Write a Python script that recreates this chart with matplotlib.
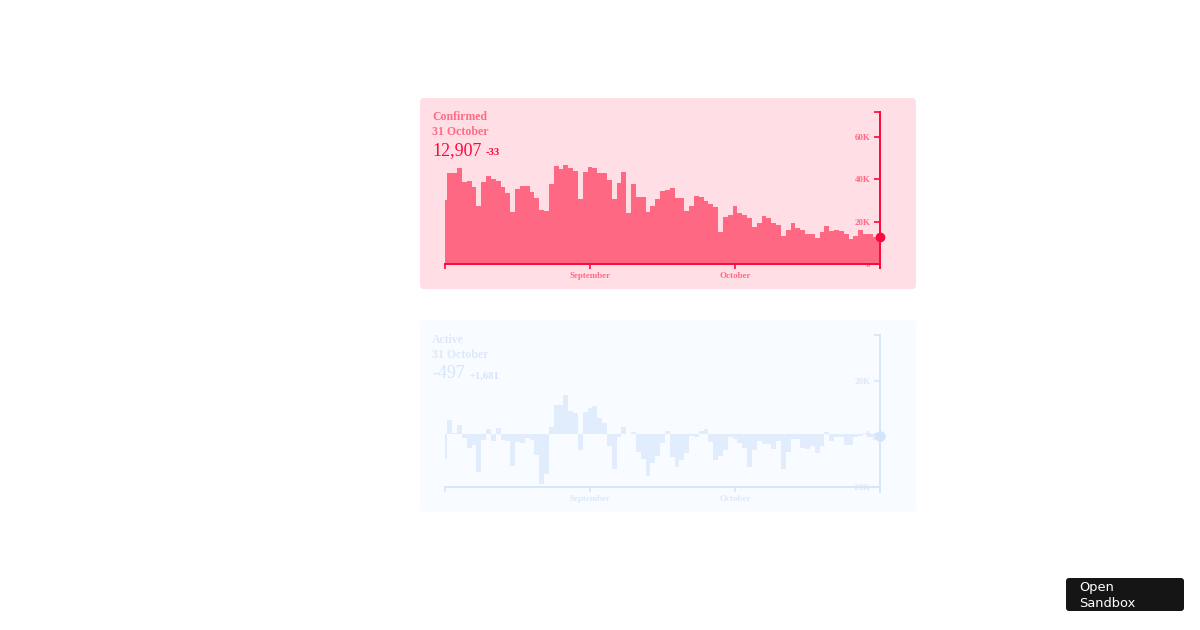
import matplotlib
matplotlib.use('Agg')
import matplotlib.pyplot as plt
from matplotlib.patches import FancyBboxPatch
import matplotlib.dates as mdates
import pandas as pd

# ---------------- data ----------------
dates = pd.date_range('2020-08-02', '2020-10-31', freq='D')

confirmed_k = [30.3, 42.9, 42.9, 45.2, 38.9, 39.4, 36.3, 27.4, 38.6, 41.8,
               40.2, 39.2, 36.3, 33.4, 24.7, 35.5, 36.9, 36.9, 34.2, 31.1,
               25.5, 25.1, 37.8, 46.3, 44.9, 46.8, 45.2, 44.0, 30.6, 43.3,
               46.0, 45.5, 42.9, 42.9, 39.7, 30.6, 38.1, 43.6, 24.3, 37.8,
               31.5, 31.5, 24.4, 27.6, 30.6, 34.7, 35.0, 35.8, 31.3, 31.1,
               25.1, 27.6, 32.2, 31.5, 29.8, 28.4, 27.1, 15.0, 22.1, 23.2,
               27.4, 24.0, 23.2, 21.6, 17.4, 19.2, 22.7, 21.9, 19.6, 18.5,
               13.2, 15.9, 19.2, 17.2, 15.9, 14.2, 14.2, 12.4, 15.0, 18.1,
               15.6, 15.9, 15.8, 14.3, 11.7, 13.2, 16.2, 14.3, 14.2, 12.940,
               12.907]

active_k = [-9.2, 5.4, 0.4, 3.5, -1.5, -5.0, -4.0, -14.2, -2.1, 2.0,
            -2.7, 2.5, -2.1, -2.7, -12.1, -3.0, -3.1, -1.5, -2.1, -7.7,
            -18.9, -14.8, 2.9, 11.2, 11.2, 14.7, 8.8, 8.1, -5.9, 8.5,
            10.1, 10.6, 6.0, 4.1, -4.4, -13.0, -1.1, 2.6, 0.3, 1.0,
            -6.7, -9.2, -15.6, -10.8, -8.1, -3.4, 1.4, -8.6, -12.5, -9.6,
            -7.1, -0.5, -1.1, 1.2, 2.0, -3.0, -9.6, -8.3, -5.9, -1.2,
            -1.9, -3.1, -5.0, -12.5, -5.9, -2.4, -3.6, -3.6, -5.6, -2.5,
            -13.1, -6.5, -1.9, -1.9, -5.0, -5.6, -4.4, -6.9, -4.4, 0.9,
            -2.5, -1.2, -1.0, -4.1, -4.1, -1.2, -0.6, 0.6, -1.0, -2.178,
            -0.497]

confirmed = [v * 1000 for v in confirmed_k]
active = [v * 1000 for v in active_k]

x_tick_dates = [dates[0], pd.Timestamp('2020-09-01'), pd.Timestamp('2020-10-01'), dates[-1]]
x_tick_labels = ['', 'September', 'October', '']

conf_ticks = [0, 20000, 40000, 60000]
conf_tick_labels = ['0', '20K', '40K', '60K']
act_ticks = [-20000, 0, 20000]
act_tick_labels = ['-20K', '0', '20K']

SERIF = ['Liberation Serif', 'DejaVu Serif']

W, H = 1200, 630
fig = plt.figure(figsize=(12, 6.3), dpi=100)
fig.patch.set_facecolor('white')

bg = fig.add_axes([0, 0, 1, 1], zorder=0)
bg.set_xlim(0, W)
bg.set_ylim(H, 0)
bg.axis('off')


def panel(x, y, w, h, color):
    bg.add_patch(FancyBboxPatch((x, y), w, h, boxstyle='round,pad=0,rounding_size=4',
                                facecolor=color, edgecolor='none'))


def chart_axes(left, right, top, bottom):
    ax = fig.add_axes([left / W, 1 - bottom / H, (right - left) / W, (bottom - top) / H], zorder=2)
    ax.set_facecolor('none')
    return ax


def style_axes(ax, axis_color, label_color, xaxis_y, yticks, ylabels, ytop):
    for s in ['top', 'right']:
        ax.spines[s].set_visible(False)
    xnum = mdates.date2num(dates[-1])
    ax.spines['left'].set_position(('data', xnum))
    ax.spines['bottom'].set_position(('data', xaxis_y))
    for s in ['left', 'bottom']:
        ax.spines[s].set_color(axis_color)
        ax.spines[s].set_linewidth(1.4)
    ax.set_xlim(dates[0], dates[-1])
    ax.set_xticks(x_tick_dates)
    ax.set_xticklabels(x_tick_labels)
    ax.set_yticks(yticks + [ytop])
    ax.set_yticklabels(ylabels + [''])
    ax.tick_params(axis='x', direction='out', length=3.8, width=1.2, color=axis_color,
                   pad=2.0, labelcolor=label_color, labelsize=6.5)
    ax.tick_params(axis='y', direction='out', length=4.3, width=1.2, color=axis_color,
                   pad=2.5, labelcolor=label_color, labelsize=6.5)
    for lab in ax.get_xticklabels() + ax.get_yticklabels():
        lab.set_family(SERIF)
        lab.set_fontweight('bold')


# ---------------- Confirmed panel ----------------
panel(420, 98, 496, 191, '#ffdfe5')
ax1 = chart_axes(445, 880, 112, 268)
c_px = 2.115 / 1000.0
ax1.set_ylim(-(268 - 264) / c_px, (264 - 112) / c_px)
ax1.bar(dates, confirmed, width=1.0, color='#ff6883', linewidth=0, zorder=1)
style_axes(ax1, '#ff073a', '#ff6b86', 0, conf_ticks, conf_tick_labels, (264 - 112) / c_px)
ax1.plot(dates[-1], confirmed[-1], 'o', ms=6, color='#ff073a', clip_on=False, zorder=5)

bg.text(432, 119.7, 'Confirmed', fontsize=8.5, fontweight='bold', family=SERIF,
        color='#ff6b86', va='baseline')
bg.text(432, 134.7, '31 October', fontsize=8.6, fontweight='bold', family=SERIF,
        color='#ff6b86', va='baseline')
bg.text(432, 155.3, '12,907', fontsize=13, family=SERIF, color='#ff073a', va='baseline')
bg.text(485.7, 155.3, '-33', fontsize=7.7, fontweight='bold', family=SERIF,
        color='#ff073a', va='baseline')

# ---------------- Active panel ----------------
panel(420, 320, 496, 192, '#f8fbff')
ax2 = chart_axes(445, 880, 335.3, 492)
a_px = 2.65 / 1000.0
ax2.set_ylim(-(492 - 434.3) / a_px, (434.3 - 335.3) / a_px)
ax2.bar(dates, active, width=1.0, color='#e1edfd', linewidth=0, zorder=1)
style_axes(ax2, '#d6e6fb', '#dce8fb', -20000, act_ticks, act_tick_labels, (434.3 - 335.3) / a_px)
ax2.plot(dates[-1], active[-1], 'o', ms=6.5, color='#d3e4fb', clip_on=False, zorder=5)

bg.text(432, 343.3, 'Active', fontsize=8.5, fontweight='bold', family=SERIF,
        color='#dde9fb', va='baseline')
bg.text(432, 357.7, '31 October', fontsize=8.6, fontweight='bold', family=SERIF,
        color='#dde9fb', va='baseline')
bg.text(432, 378.3, '-497', fontsize=13, family=SERIF, color='#d6e5fb', va='baseline')
bg.text(469.3, 378.3, '+1,681', fontsize=7.7, fontweight='bold', family=SERIF,
        color='#d6e5fb', va='baseline')

# ---------------- Open Sandbox button ----------------
bg.add_patch(FancyBboxPatch((1066, 578), 118, 33, boxstyle='round,pad=0,rounding_size=3',
                            facecolor='#151515', edgecolor='none'))
bg.text(1079, 587.5, 'Open', fontsize=9.4, family='DejaVu Sans', color='white', va='center')
bg.text(1079, 603.5, 'Sandbox', fontsize=9.4, family='DejaVu Sans', color='white', va='center')

fig.savefig('out.png', dpi=100)
